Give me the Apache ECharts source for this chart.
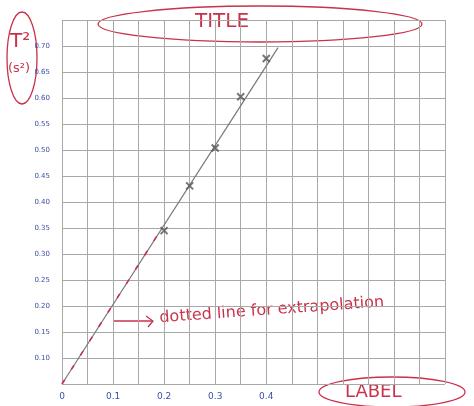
<!DOCTYPE html><html><head><meta charset="utf-8"><script src="https://cdn.jsdelivr.net/npm/echarts@6/dist/echarts.min.js"></script></head><body style="margin:0;background:#fff"><div id="c" style="width:474px;height:406px"></div><script>
const xValues=[0.2,0.25,0.3,0.35,0.4];
const yValues=[0.345,0.431,0.504,0.6025,0.676];
const fitLine=[[0,0.05],[0.423,0.697]];
const extrapolation=[[0,0.05],[0.19,0.341]];
const xTickLabels=['0','0.1','0.2','0.3','0.4'];
const yTickLabels=['0.10','0.15','0.20','0.25','0.30','0.35','0.40','0.45','0.50','0.55','0.60','0.65','0.70'];
const red='#c8324a',blue='#3b4fa8';
const hand='"Comic Sans MS","DejaVu Sans",sans-serif';
const c=echarts.init(document.getElementById('c'));
c.setOption({animation:false,
grid:{left:62,right:29,top:20,bottom:22},
xAxis:{type:'value',min:0,max:0.75,interval:0.05,
 axisLine:{show:false},axisTick:{show:false},
 splitLine:{lineStyle:{color:'#a8a8a8',width:1}},
 axisLabel:{color:blue,fontSize:9,margin:8,fontFamily:hand,
  formatter:v=>{const s=v.toFixed(2);const m={'0.00':'0','0.10':'0.1','0.20':'0.2','0.30':'0.3','0.40':'0.4'};return m[s]&&xTickLabels.includes(m[s])?m[s]:'';}}},
yAxis:{type:'value',min:0.05,max:0.75,interval:0.05,
 axisLine:{show:false},axisTick:{show:false},
 splitLine:{lineStyle:{color:'#a8a8a8',width:1}},
 axisLabel:{color:blue,fontSize:7,margin:12,fontFamily:hand,
  formatter:v=>{const s=v.toFixed(2);return yTickLabels.includes(s)?s:'';}}},
series:[
 {type:'line',data:fitLine,symbol:'none',lineStyle:{color:'#777',width:1.2},z:3},
 {type:'line',data:extrapolation,symbol:'none',lineStyle:{color:red,width:1.6,type:[5,12]},z:4},
 {type:'scatter',data:xValues.map((x,i)=>[x,yValues[i]]),symbol:'path://M0,0L10,10M10,0L0,10',symbolSize:7,
  itemStyle:{color:'none',borderColor:'#555',borderWidth:2},z:5}
],
graphic:[
 {type:'ellipse',shape:{cx:260,cy:24,rx:162,ry:18},style:{fill:'none',stroke:red,lineWidth:1.3}},
 {type:'text',left:195,top:12,style:{text:'TITLE',fill:red,font:'20px '+hand}},
 {type:'ellipse',shape:{cx:392,cy:392,rx:73,ry:15},style:{fill:'none',stroke:red,lineWidth:1.3}},
 {type:'text',left:345,top:383,style:{text:'LABEL',fill:red,font:'18px '+hand}},
 {type:'ellipse',shape:{cx:22,cy:58,rx:15,ry:46},style:{fill:'none',stroke:red,lineWidth:1.3}},
 {type:'text',left:10,top:32,style:{text:'T²',fill:red,font:'20px '+hand}},
 {type:'text',left:8,top:62,style:{text:'(s²)',fill:red,font:'13px '+hand}},
 {type:'line',shape:{x1:114,y1:321,x2:152,y2:321},style:{stroke:red,lineWidth:1.3}},
 {type:'polyline',shape:{points:[[146,316],[153,321],[148,327]]},style:{stroke:red,fill:'none',lineWidth:1.3}},
 {type:'text',x:160,y:326,rotation:0.07,style:{text:'dotted line for extrapolation',fill:red,font:'16px '+hand,verticalAlign:'bottom'}}
]});
</script></body></html>
